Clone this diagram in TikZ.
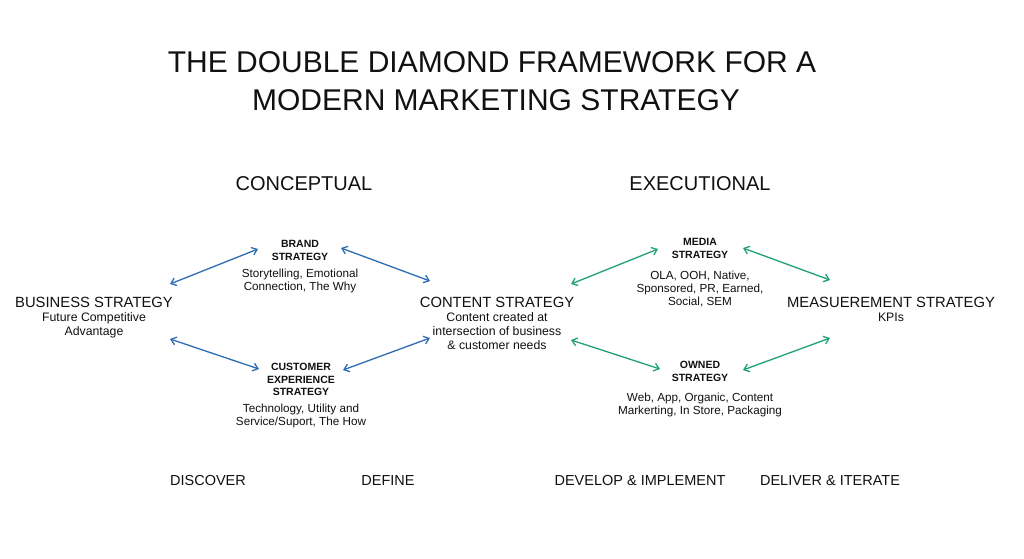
\documentclass[tikz,border=0pt]{standalone}
\usepackage{fontspec}
\setmainfont{Liberation Sans}
\usetikzlibrary{arrows.meta}
\definecolor{arrblue}{HTML}{2E6DB4}
\definecolor{arrgreen}{HTML}{20A07A}
\definecolor{txt}{HTML}{111111}
\begin{document}
\begin{tikzpicture}[x=1pt,y=-1pt,
  title/.style={font=\fontsize{30}{38}\selectfont, text=txt, align=center},
  phase/.style={font=\fontsize{20}{24}\selectfont, text=txt},
  mainlbl/.style={font=\fontsize{14.8}{18}\selectfont, text=txt, anchor=base},
  mainsub/.style={font=\fontsize{12.3}{14}\selectfont, text=txt, align=center, anchor=north},
  sub/.style={font=\fontsize{11.7}{13.2}\selectfont, text=txt, align=center, anchor=north},
  boldlbl/.style={font=\fontsize{10.5}{12.8}\selectfont\bfseries, text=txt, align=center, anchor=north},
  stage/.style={font=\fontsize{14.5}{18}\selectfont, text=txt, anchor=base},
  barrow/.style={draw=arrblue, line width=1.3pt, {Straight Barb[length=5pt,width=8pt]}-{Straight Barb[length=5pt,width=8pt]}},
  garrow/.style={draw=arrgreen, line width=1.3pt, {Straight Barb[length=5pt,width=8pt]}-{Straight Barb[length=5pt,width=8pt]}},
  inner sep=0pt, outer sep=0pt]
\path[use as bounding box, fill=white] (0,0) rectangle (1024,558);

% title
\node[title] (t1) at (492,62) {THE DOUBLE DIAMOND FRAMEWORK FOR A};
\node[title] (t2) at (496,100) {MODERN MARKETING STRATEGY};

% phases
\node[phase] (concept) at (304,184) {CONCEPTUAL};
\node[phase] (exec) at (700,184) {EXECUTIONAL};

% main nodes
\node[mainlbl] (business) at (94,307) {BUSINESS STRATEGY};
\node[mainsub] (businesssub) at (94,313) {Future Competitive\\Advantage};
\node[mainlbl] (content) at (497,307) {CONTENT STRATEGY};
\node[mainsub] (contentsub) at (497,313) {Content created at\\intersection of business\\\& customer needs};
\node[mainlbl] (measure) at (891,307) {MEASUEREMENT STRATEGY};
\node[mainsub] (measuresub) at (891,313) {KPIs};

% diamond vertices
\node[boldlbl] (brand) at (300,240) {BRAND\\STRATEGY};
\node[sub] (brandsub) at (300,269) {Storytelling, Emotional\\Connection, The Why};
\node[boldlbl] (cx) at (301,363) {CUSTOMER\\EXPERIENCE\\STRATEGY};
\node[sub] (cxsub) at (301,404) {Technology, Utility and\\Service/Suport, The How};
\node[boldlbl] (media) at (700,238) {MEDIA\\STRATEGY};
\node[sub] (mediasub) at (700,271) {OLA, OOH, Native,\\Sponsored, PR, Earned,\\Social, SEM};
\node[boldlbl] (owned) at (700,361) {OWNED\\STRATEGY};
\node[sub] (ownedsub) at (700,393) {Web, App, Organic, Content\\Markerting, In Store, Packaging};

% arrow end coordinates
\coordinate (b1) at (170,284); \coordinate (b2) at (258,249);
\coordinate (b3) at (341,248); \coordinate (b4) at (430,281);
\coordinate (b5) at (170,339); \coordinate (b6) at (259,369);
\coordinate (b7) at (343,370); \coordinate (b8) at (430,338);
\coordinate (g1) at (571,284); \coordinate (g2) at (658,249);
\coordinate (g3) at (743,248); \coordinate (g4) at (830,280);
\coordinate (g5) at (571,340); \coordinate (g6) at (660,369);
\coordinate (g7) at (743,370); \coordinate (g8) at (830,338);

\draw[barrow] (b1) -- (b2);
\draw[barrow] (b3) -- (b4);
\draw[barrow] (b5) -- (b6);
\draw[barrow] (b7) -- (b8);
\draw[garrow] (g1) -- (g2);
\draw[garrow] (g3) -- (g4);
\draw[garrow] (g5) -- (g6);
\draw[garrow] (g7) -- (g8);

% stages
\node[stage] (discover) at (208,485) {DISCOVER};
\node[stage] (define) at (388,485) {DEFINE};
\node[stage] (develop) at (640,485) {DEVELOP \& IMPLEMENT};
\node[stage] (deliver) at (830,485) {DELIVER \& ITERATE};
\end{tikzpicture}
\end{document}
